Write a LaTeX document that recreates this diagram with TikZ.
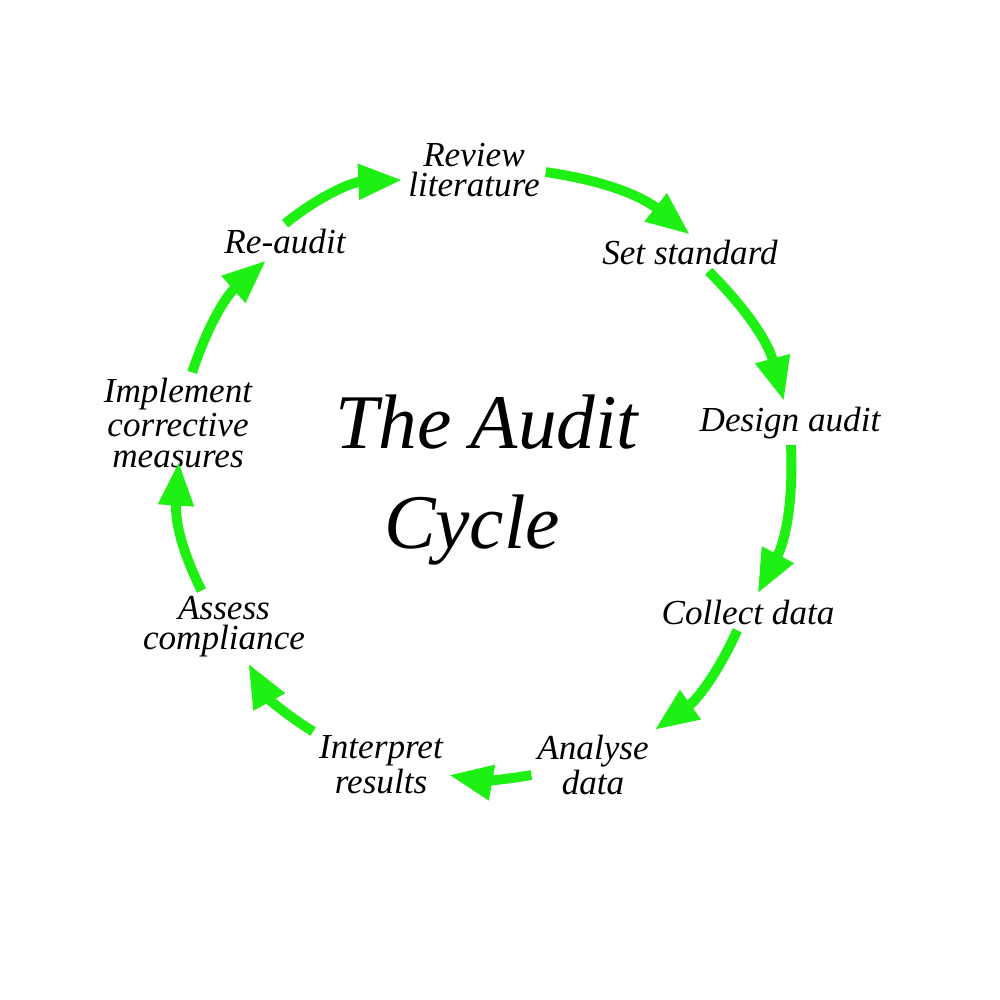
\documentclass[tikz,border=0pt]{standalone}
\usepackage{fontspec}
\setmainfont{Liberation Serif}
\usepackage{tikz}
\usetikzlibrary{arrows.meta}
\definecolor{cycle-green}{rgb}{0.12, 0.94, 0.08}

\begin{document}
\begin{tikzpicture}[
	step label/.style={align=center, inner sep=1.5pt, font=\fontsize{10}{8.6}\selectfont\itshape},
	cycle arrow/.style={cycle-green, line width=2.8pt, -{Triangle[width=9.5pt, length=12.5pt]}, bend left=15}]
		\useasboundingbox (0,0) rectangle (10,10);

		% Draw the title in the middle
		\node (title) [align=center, font=\fontsize{22}{28.5}\selectfont\itshape] at (4.87,5.2) {The Audit\\\hspace*{-3mm}Cycle};

		% Draw the steps around the circle
		\node (review) [step label] at (4.74,8.30) {Review\\literature};
		\node (setstd) [step label] at (6.90,7.47) {Set standard};
		\node (design) [step label] at (7.90,5.77) {Design audit};
		\node (collect) [step label] at (7.48,3.88) {Collect data};
		\node (analyse) [step label] at (5.93,2.35) {Analyse\\data};
		\node (interpret) [step label] at (3.81,2.35) {Interpret\\results};
		\node (assess) [step label] at (2.24,3.73) {Assess\\compliance};
		\node (implement) [step label] at (1.78,5.77) {Implement\\corrective\\measures};
		\node (reaudit) [step label] at (2.85,7.58) {Re-audit};

		% Connect the steps with arrows
		\draw[cycle arrow] (review) to (setstd.north);
		\draw[cycle arrow] (setstd) to (design);
		\draw[cycle arrow] (design) to (collect);
		\draw[cycle arrow] (collect) to (analyse);
		\draw[cycle arrow, bend left=10] ([yshift=-1mm]analyse.west) to ([yshift=-1mm]interpret.east);
		\draw[cycle arrow] (interpret) to (assess);
		\draw[cycle arrow, shorten >=-1.2mm] (assess) to (implement.south);
		\draw[cycle arrow] (implement) to (reaudit);
		\draw[cycle arrow, bend left=18] (reaudit.north) to ([yshift=-1mm]review.west);
\end{tikzpicture}
\end{document}
